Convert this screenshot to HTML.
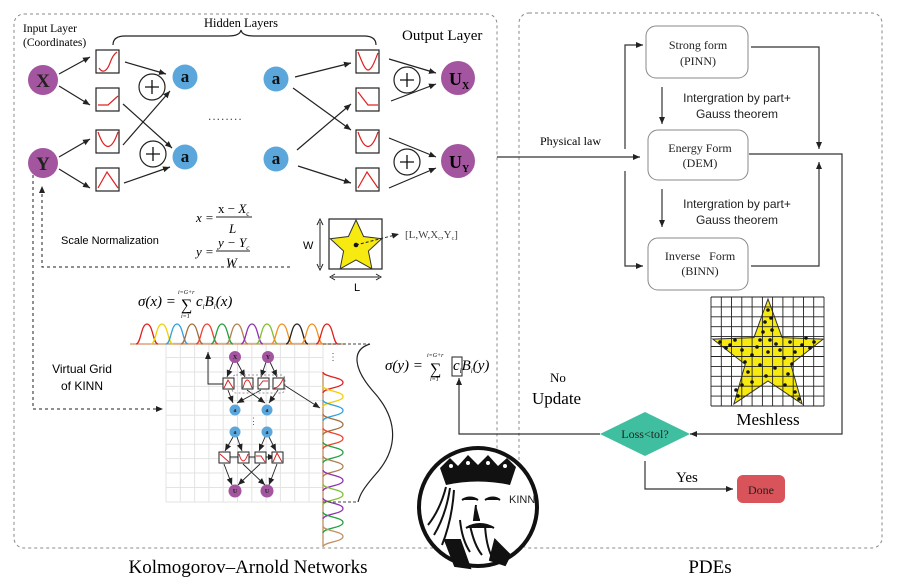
<!DOCTYPE html>
<html><head><meta charset="utf-8"><style>
html,body{margin:0;padding:0;background:#fff;}
svg{display:block;}
.s{font-family:"Liberation Serif",serif;}
.a{font-family:"Liberation Sans",sans-serif;}
</style></head><body>
<svg width="901" height="586" viewBox="0 0 901 586" xmlns="http://www.w3.org/2000/svg">
<defs>
<marker id="ar" markerWidth="8" markerHeight="8" refX="7" refY="4" orient="auto" markerUnits="userSpaceOnUse"><path d="M0,1 L7,4 L0,7 Z" fill="#222"/></marker>
</defs>
<!-- frames -->
<rect x="14" y="14" width="483" height="534" rx="10" fill="none" stroke="#888" stroke-dasharray="3,3"/>
<rect x="519" y="13" width="363" height="535" rx="10" fill="none" stroke="#888" stroke-dasharray="3,3"/>
<text class="s" x="248" y="573" font-size="19" text-anchor="middle">Kolmogorov–Arnold Networks</text>
<text class="s" x="710" y="573" font-size="19" text-anchor="middle">PDEs</text>

<!-- left top network -->
<text class="s" x="23" y="32" font-size="11.5">Input Layer</text>
<text class="s" x="23" y="46" font-size="11.5">(Coordinates)</text>
<text class="s" x="241" y="27" font-size="12.5" text-anchor="middle">Hidden Layers</text>
<path d="M113,45 Q113,36 125,36 L228,36 Q240,36 241,30 Q242,36 254,36 L364,36 Q376,36 376,45" fill="none" stroke="#222" stroke-width="1.2"/>
<text class="s" x="402" y="40" font-size="15">Output Layer</text>

<g stroke="#222" stroke-width="1.2" fill="none" marker-end="url(#ar)">
<line x1="59" y1="74" x2="90" y2="57"/><line x1="59" y1="86" x2="90" y2="105"/>
<line x1="59" y1="157" x2="90" y2="139"/><line x1="59" y1="169" x2="90" y2="188"/>
<line x1="125" y1="62" x2="166" y2="74"/><line x1="123" y1="104" x2="172" y2="148"/>
<line x1="123" y1="145" x2="170" y2="91"/><line x1="124" y1="183" x2="170" y2="167"/>
<line x1="295" y1="77" x2="351" y2="63"/><line x1="293" y1="88" x2="351" y2="130"/>
<line x1="297" y1="150" x2="351" y2="104"/><line x1="298" y1="166" x2="351" y2="183"/>
<line x1="389" y1="59" x2="436" y2="73"/><line x1="391" y1="101" x2="436" y2="84"/>
<line x1="389" y1="138" x2="436" y2="157"/><line x1="389" y1="188" x2="436" y2="168"/>
</g>
<g fill="#a4559f"><circle cx="43" cy="80" r="15"/><circle cx="43" cy="163" r="15"/><circle cx="458" cy="78" r="17"/><circle cx="458" cy="161" r="17"/></g>
<g class="s" font-weight="bold" font-size="19" text-anchor="middle" fill="#222"><text x="43" y="87">X</text><text x="43" y="170">Y</text></g>
<text class="s" x="449" y="85" font-size="18" font-weight="bold">U<tspan font-size="10" dy="4">X</tspan></text>
<text class="s" x="449" y="168" font-size="18" font-weight="bold">U<tspan font-size="10" dy="4">Y</tspan></text>
<g fill="#5ba7dc"><circle cx="185" cy="77" r="12.5"/><circle cx="185" cy="157" r="12.5"/><circle cx="276" cy="79" r="12.5"/><circle cx="276" cy="159" r="12.5"/></g>
<g class="s" font-weight="bold" font-size="17" text-anchor="middle" fill="#111"><text x="185" y="82">a</text><text x="185" y="162">a</text><text x="276" y="84">a</text><text x="276" y="164">a</text></g>
<g fill="#fff" stroke="#222" stroke-width="1.2"><circle cx="152" cy="87" r="13"/><circle cx="153" cy="154" r="13"/><circle cx="407" cy="80" r="13"/><circle cx="407" cy="162" r="13"/></g>
<g stroke="#111" stroke-width="1.3"><path d="M145,87h14M152,80v14M146,154h14M153,147v14M400,80h14M407,73v14M400,162h14M407,155v14"/></g>
<g fill="#fff" stroke="#222" stroke-width="1.2">
<rect x="96" y="50" width="23" height="23"/><rect x="96" y="88" width="23" height="23"/><rect x="96" y="130" width="23" height="23"/><rect x="96" y="168" width="23" height="23"/>
<rect x="356" y="50" width="23" height="23"/><rect x="356" y="88" width="23" height="23"/><rect x="356" y="130" width="23" height="23"/><rect x="356" y="168" width="23" height="23"/>
</g>
<g stroke="#e02020" stroke-width="1.2" fill="none">
<path d="M99,68 C103,74 107,71 110,63 C112,57 114,54 117,52"/>
<path d="M98,105 L108,105 L118,96"/>
<path d="M98,132 Q108,161 118,132"/>
<path d="M98,188 L107,172 L118,188"/>
<path d="M358,52 C362,62 365,70 368,70 C372,70 375,60 378,53"/>
<path d="M358,92 L368,105 L378,105"/>
<path d="M358,132 Q368,161 378,132"/>
<path d="M358,188 L367,172 L378,188"/>
</g>
<text x="208" y="120" font-size="12" fill="#444" class="a" letter-spacing="1">........</text>

<!-- normalization -->
<text class="a" x="61" y="244" font-size="11">Scale Normalization</text>
<g class="s" font-size="13" font-style="italic">
<text x="196" y="222">x =</text><text x="218" y="213" font-style="normal">x − <tspan font-style="italic">X</tspan><tspan font-size="7" dy="3">c</tspan></text>
<line x1="216" y1="217" x2="252" y2="217" stroke="#222"/><text x="229" y="233">L</text>
<text x="196" y="256">y =</text><text x="218" y="247">y − Y<tspan font-size="7" dy="3">c</tspan></text>
<line x1="216" y1="251" x2="250" y2="251" stroke="#222"/><text x="226" y="267">W</text>
</g>
<path d="M290,267 H42 V186" fill="none" stroke="#222" stroke-dasharray="3,3" marker-end="url(#ar)"/>
<path d="M33,175 V409 H163" fill="none" stroke="#222" stroke-dasharray="3,3" marker-end="url(#ar)"/>
<rect x="329" y="219" width="53" height="50" fill="#fff" stroke="#222" stroke-width="1.2"/>
<polygon points="356,220 363.6,236.5 381.7,238.7 368.4,251 371.9,268.8 356,260 340.1,268.8 343.6,251 330.3,238.7 348.4,236.5" fill="#f7ea10" stroke="#333"/>
<circle cx="356" cy="245" r="2.3" fill="#111"/>
<line x1="356" y1="245" x2="399" y2="234" stroke="#222" stroke-dasharray="3,2" marker-end="url(#ar)"/>
<text class="s" x="405" y="238" font-size="11" fill="#444">[L,W,X<tspan font-size="6" dy="2">c</tspan><tspan dy="-2">,Y</tspan><tspan font-size="6" dy="2">c</tspan><tspan dy="-2">]</tspan></text>
<path d="M320,222 V267 M317,225 L320,219 L323,225 M317,264 L320,270 L323,264" stroke="#222" fill="none"/>
<text class="a" x="303" y="249" font-size="11">W</text>
<path d="M332,277 H379 M335,274 L330,277 L335,280 M376,274 L381,277 L376,280" stroke="#222" fill="none"/>
<text class="a" x="354" y="291" font-size="11">L</text>

<!-- KAN grid -->
<text class="s" x="138" y="306" font-size="15" font-style="italic">σ(x) = </text>
<text class="s" x="181" y="310" font-size="16">∑</text>
<text class="s" x="178" y="294" font-size="6" font-style="italic">i=G+r</text>
<text class="s" x="181" y="318" font-size="6" font-style="italic">i=1</text>
<text class="s" x="196" y="306" font-size="15" font-style="italic">c<tspan font-size="7" dy="3">i</tspan><tspan dy="-3">B</tspan><tspan font-size="7" dy="3">i</tspan><tspan dy="-3">(x)</tspan></text>

<g stroke="#e3e3e3" stroke-width="1">
<path d="M166,343V502M180.3,343V502M194.6,343V502M208.9,343V502M223.2,343V502M237.5,343V502M251.8,343V502M266.1,343V502M280.4,343V502M294.7,343V502M309,343V502M323,343V502"/>
<path d="M166,343H323M166,357.5H323M166,372H323M166,386.4H323M166,400.8H323M166,415.3H323M166,429.8H323M166,444.2H323M166,458.6H323M166,473H323M166,487.5H323M166,502H323"/>
</g>
<line x1="130" y1="344" x2="345" y2="344" stroke="#d09060" stroke-width="1.3"/>
<g fill="none" stroke-width="1.3">
<path stroke="#e02020" d="M136,344 C141,344 141,324 147,324 C153,324 153,344 158,344"/>
<path stroke="#f0d000" d="M151,344 C156,344 156,324 162,324 C168,324 168,344 173,344"/>
<path stroke="#30a0e0" d="M166,344 C171,344 171,324 177,324 C183,324 183,344 188,344"/>
<path stroke="#a07040" d="M181,344 C186,344 186,324 192,324 C198,324 198,344 203,344"/>
<path stroke="#f04030" d="M196,344 C201,344 201,324 207,324 C213,324 213,344 218,344"/>
<path stroke="#20a040" d="M211,344 C216,344 216,324 222,324 C228,324 228,344 233,344"/>
<path stroke="#b08050" d="M226,344 C231,344 231,324 237,324 C243,324 243,344 248,344"/>
<path stroke="#9030b0" d="M241,344 C246,344 246,324 252,324 C258,324 258,344 263,344"/>
<path stroke="#80c030" d="M256,344 C261,344 261,324 267,324 C273,324 273,344 278,344"/>
<path stroke="#f09020" d="M271,344 C276,344 276,324 282,324 C288,324 288,344 293,344"/>
<path stroke="#222" d="M286,344 C291,344 291,324 297,324 C303,324 303,344 308,344"/>
<path stroke="#f09020" d="M301,344 C306,344 306,324 312,324 C318,324 318,344 323,344"/>
<path stroke="#e02020" d="M316,344 C321,344 321,324 327,324 C333,324 333,344 338,344"/>
</g>
<line x1="323" y1="372" x2="323" y2="546" stroke="#c09060" stroke-width="1.3"/>
<text x="328" y="360" font-size="10" fill="#555">⋮</text>
<g fill="none" stroke-width="1.3">
<path stroke="#e02020" d="M323,372 C323,377 343,377 343,382.5 C343,388 323,388 323,393"/>
<path stroke="#f0d000" d="M323,386 C323,391 343,391 343,396.5 C343,402 323,402 323,407"/>
<path stroke="#30a0e0" d="M323,400 C323,405 343,405 343,410.5 C343,416 323,416 323,421"/>
<path stroke="#a07040" d="M323,414 C323,419 343,419 343,424.5 C343,430 323,430 323,435"/>
<path stroke="#f04030" d="M323,428 C323,433 343,433 343,438.5 C343,444 323,444 323,449"/>
<path stroke="#20a040" d="M323,442 C323,447 343,447 343,452.5 C343,458 323,458 323,463"/>
<path stroke="#b08050" d="M323,456 C323,461 343,461 343,466.5 C343,472 323,472 323,477"/>
<path stroke="#9030b0" d="M323,470 C323,475 343,475 343,480.5 C343,486 323,486 323,491"/>
<path stroke="#80c030" d="M323,484 C323,489 343,489 343,494.5 C343,500 323,500 323,505"/>
<path stroke="#9030b0" d="M323,498 C323,503 343,503 343,508.5 C343,514 323,514 323,519"/>
<path stroke="#20a040" d="M323,512 C323,517 343,517 343,522.5 C343,528 323,528 323,533"/>
<path stroke="#c09060" d="M323,526 C323,531 343,531 343,536.5 C343,542 323,542 323,547"/>
</g>
<path d="M323,344 H370 M323,502 H358" stroke="#444" stroke-dasharray="3,2"/>
<path d="M370,344 C350,350 355,370 372,390 C400,420 398,450 375,475 C362,490 360,495 358,502" fill="none" stroke="#222" stroke-width="1.2"/>
<text class="s" x="385" y="370" font-size="15" font-style="italic">σ(y) = </text>
<text class="s" x="430" y="374" font-size="16">∑</text>
<text class="s" x="427" y="357" font-size="6" font-style="italic">i=G+r</text>
<text class="s" x="430" y="381" font-size="6" font-style="italic">i=1</text>
<rect x="452" y="357" width="10" height="19" fill="none" stroke="#222"/>
<text class="s" x="453" y="370" font-size="15" font-style="italic">c<tspan font-size="7" dy="3">i</tspan><tspan dy="-3">B</tspan><tspan font-size="7" dy="3">i</tspan><tspan dy="-3">(y)</tspan></text>
<text class="a" x="82" y="373" font-size="12" text-anchor="middle">Virtual Grid</text>
<text class="a" x="82" y="390" font-size="12" text-anchor="middle">of KINN</text>

<!-- mini network -->
<g stroke="#222" stroke-width="0.9" fill="none" marker-end="url(#ar)">
<line x1="233" y1="362" x2="227" y2="377"/><line x1="237" y1="362" x2="245" y2="377"/>
<line x1="266" y1="362" x2="261" y2="377"/><line x1="270" y1="362" x2="277" y2="377"/>
<line x1="228" y1="390" x2="233" y2="403"/><line x1="247" y1="390" x2="265" y2="403"/>
<line x1="261" y1="390" x2="237" y2="403"/><line x1="278" y1="390" x2="269" y2="403"/>
<line x1="233" y1="437" x2="225" y2="451"/><line x1="237" y1="437" x2="242" y2="451"/>
<line x1="265" y1="437" x2="259" y2="451"/><line x1="269" y1="437" x2="276" y2="451"/>
<line x1="224" y1="464" x2="232" y2="485"/><line x1="243" y1="464" x2="265" y2="485"/>
<line x1="260" y1="464" x2="238" y2="485"/><line x1="277" y1="464" x2="269" y2="485"/>
<path d="M223,384 H208 V352"/>
<line x1="284" y1="385" x2="320" y2="408"/>
<line x1="230" y1="457" x2="275" y2="457"/>
</g>
<rect x="232" y="375" width="53" height="18" rx="4" fill="none" stroke="#999" stroke-dasharray="2,2"/>
<g fill="#fff" stroke="#222"><rect x="223" y="378" width="11" height="11"/><rect x="242" y="378" width="11" height="11"/><rect x="258" y="378" width="11" height="11"/><rect x="273" y="378" width="11" height="11"/>
<rect x="219" y="452" width="11" height="11"/><rect x="238" y="452" width="11" height="11"/><rect x="255" y="452" width="11" height="11"/><rect x="272" y="452" width="11" height="11"/></g>
<g stroke="#e02020" fill="none"><path d="M224,388 L228,380 L233,388M243,388 Q247,372 252,388M259,386 L263,381 L268,381M274,388 Q279,388 283,379"/><path d="M220,454 L229,462M239,454 Q243,468 248,454M256,456 L261,456 L265,462M273,462 L277,453 L282,462"/></g>
<g fill="#a4559f"><circle cx="235" cy="357" r="6"/><circle cx="268" cy="357" r="6"/><circle cx="235" cy="491" r="6.5"/><circle cx="267" cy="491" r="6.5"/></g>
<g fill="#5ba7dc"><circle cx="235" cy="410" r="5.5"/><circle cx="267" cy="410" r="5.5"/><circle cx="235" cy="432" r="5.5"/><circle cx="267" cy="432" r="5.5"/></g>
<g font-size="6" font-weight="bold" text-anchor="middle" class="s" fill="#222"><text x="235" y="359">X</text><text x="268" y="359">Y</text><text x="235" y="412">a</text><text x="267" y="412">a</text><text x="235" y="434">a</text><text x="267" y="434">a</text><text x="235" y="493">U</text><text x="267" y="493">U</text></g>
<text x="249" y="424" font-size="9" fill="#555">⋮</text>

<!-- King -->
<circle cx="478" cy="507" r="59" fill="#fff" stroke="#111" stroke-width="4"/>
<path d="M440,468 L450,458 L458,466 L468,455 L478,465 L488,455 L498,466 L507,458 L516,467 L510,485 Q478,478 446,485 Z" fill="#111"/>
<g fill="#fff"><circle cx="451" cy="466" r="2"/><circle cx="468" cy="463" r="2"/><circle cx="488" cy="463" r="2"/><circle cx="505" cy="466" r="2"/></g>
<path d="M446,487 Q440,510 428,525 M450,488 Q446,515 434,535 M454,490 Q452,520 442,545 M460,520 Q462,540 470,552 M470,525 Q474,545 482,555 M485,525 Q486,545 492,557" stroke="#111" stroke-width="2" fill="none"/>
<path d="M462,500 Q470,495 478,500 M485,500 Q493,495 500,500 M476,505 L474,520 L480,520 M466,528 Q480,520 494,528 M445,540 L455,566 L470,568 L460,540 Z M495,540 L510,555 L505,565 L490,560 Z" stroke="#111" stroke-width="2" fill="#111"/>
<text class="a" x="509" y="503" font-size="11" fill="#222">KINN</text>

<!-- right flow -->
<g fill="#fff" stroke="#888" stroke-width="1"><rect x="646" y="26" width="102" height="52" rx="10"/><rect x="648" y="130" width="100" height="50" rx="10"/><rect x="648" y="238" width="100" height="52" rx="10"/></g>
<g class="s" font-size="12" text-anchor="middle" fill="#222">
<text x="698" y="49">Strong form</text><text x="698" y="65">(PINN)</text>
<text x="700" y="152">Energy Form</text><text x="700" y="167">(DEM)</text>
<text x="700" y="260">Inverse&#160;&#160;&#160;Form</text><text x="700" y="275">(BINN)</text>
</g>
<g class="a" font-size="12" text-anchor="middle" fill="#222">
<text x="737" y="102">Intergration by part+</text><text x="737" y="118">Gauss theorem</text>
<text x="737" y="208">Intergration by part+</text><text x="737" y="224">Gauss theorem</text>
</g>
<g stroke="#333" stroke-width="1.2" fill="none" marker-end="url(#ar)">
<line x1="662" y1="87" x2="662" y2="124"/><line x1="662" y1="189" x2="662" y2="227"/>
<path d="M625,149 V45 H643"/><path d="M625,171 V266 H643"/>
<line x1="497" y1="157" x2="640" y2="157"/>
<path d="M751,47 H819 V149"/><path d="M751,266 H819 V162"/>
<path d="M749,154 H842 V434 H690"/>
<path d="M600,434 H459 V378"/>
<path d="M645,461 V489 H733"/>
</g>
<text class="s" x="540" y="145" font-size="12">Physical law</text>
<!-- mesh -->
<rect x="711" y="297" width="113" height="109" fill="#fff"/>
<polygon points="768,299 782.1,337.6 823.2,339.1 790.8,364.4 802.1,403.9 768,381 733.9,403.9 745.2,364.4 712.8,339.1 753.9,337.6" fill="#f7ea10" stroke="#333"/>
<g stroke="#222" stroke-width="0.9">
<path d="M711,297V406M721.3,297V406M731.5,297V406M741.8,297V406M752.1,297V406M762.4,297V406M772.6,297V406M782.9,297V406M793.2,297V406M803.5,297V406M813.7,297V406M824,297V406"/>
<path d="M711,297H824M711,306.9H824M711,316.8H824M711,326.7H824M711,336.6H824M711,346.5H824M711,356.5H824M711,366.4H824M711,376.3H824M711,386.2H824M711,396.1H824M711,406H824"/>
</g>
<g fill="#111">
<circle cx="768" cy="310" r="1.8"/><circle cx="765" cy="322" r="1.8"/><circle cx="772" cy="330" r="1.8"/><circle cx="760" cy="340" r="1.8"/><circle cx="776" cy="344" r="1.8"/><circle cx="720" cy="342" r="1.8"/><circle cx="730" cy="345" r="1.8"/><circle cx="742" cy="350" r="1.8"/><circle cx="752" cy="355" r="1.8"/><circle cx="790" cy="342" r="1.8"/><circle cx="802" cy="345" r="1.8"/><circle cx="814" cy="342" r="1.8"/><circle cx="795" cy="352" r="1.8"/><circle cx="784" cy="358" r="1.8"/><circle cx="768" cy="352" r="1.8"/><circle cx="760" cy="365" r="1.8"/><circle cx="775" cy="368" r="1.8"/><circle cx="748" cy="372" r="1.8"/><circle cx="788" cy="374" r="1.8"/><circle cx="742" cy="385" r="1.8"/><circle cx="752" cy="382" r="1.8"/><circle cx="785" cy="385" r="1.8"/><circle cx="795" cy="392" r="1.8"/><circle cx="738" cy="396" r="1.8"/><circle cx="766" cy="376" r="1.8"/><circle cx="770" cy="340" r="1.8"/><circle cx="735" cy="340" r="1.8"/><circle cx="806" cy="338" r="1.8"/><circle cx="757" cy="347" r="1.8"/><circle cx="780" cy="350" r="1.8"/><circle cx="745" cy="362" r="1.8"/><circle cx="792" cy="364" r="1.8"/><circle cx="799" cy="399" r="1.8"/><circle cx="736" cy="390" r="1.8"/><circle cx="771" cy="318" r="1.8"/><circle cx="763" cy="332" r="1.8"/><circle cx="726" cy="348" r="1.8"/><circle cx="810" cy="348" r="1.8"/>
</g>
<text class="s" x="768" y="425" font-size="17" text-anchor="middle">Meshless</text>
<polygon points="600,434 645,412 690,434 645,456" fill="#3fbf9f"/>
<text class="s" x="645" y="438" font-size="12" text-anchor="middle" fill="#222">Loss&lt;tol?</text>
<text class="s" x="550" y="382" font-size="13">No</text>
<text class="s" x="532" y="404" font-size="17">Update</text>
<text class="s" x="676" y="482" font-size="15">Yes</text>
<rect x="737" y="475" width="48" height="28" rx="6" fill="#d9535a"/>
<text class="s" x="761" y="494" font-size="12" text-anchor="middle" fill="#222">Done</text>
</svg>
</body></html>
